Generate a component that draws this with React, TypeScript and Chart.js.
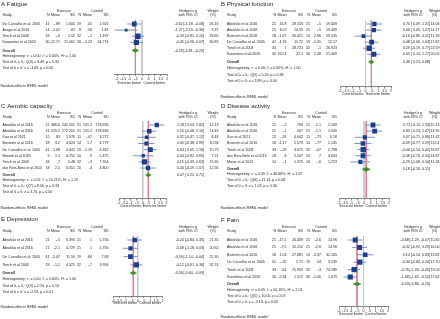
import React, { useEffect, useRef } from "react";
import { Chart, registerables } from "chart.js";

Chart.register(...registerables);

const FONT = '"Liberation Sans", Arial, sans-serif';
const FS = 3.6;
const TITLE_FS = 6.2;
const TEXT = "#1e1e1e";
const NAVY = "#1b3f8e";
const CI_COLOR = "#6a84ba";
const GREEN = "#3f8f2c";
const RED = "#e2798a";
const GRAY = "#c4c4c4";
const AXIS = "#333333";
const SQUARE = 5.4;
const XAXIS_H = 7;

const axisTicks = [-2, -1.5, -1, -0.5, 0, 0.5, 1, 1.5, 2];
const modelNote = "Random-effects REML model";
const headerGroups = ["Exercise", "Control"];
const headerCols = ["Study", "N", "Mean", "SD", "N", "Mean", "SD"];
const headerEffect = ["Hedges's g", "with 95% CI"];
const headerWeight = ["Weight", "(%)"];
const exerciseLeft = ["Exercise better", "Control better"];
const exerciseRight = ["Control better", "Exercise better"];

// A Fatigue
const fatigueStudies = ["De Carvalho et al. 2005", "Avaya et al.2016", "Tench et al.2003", "Karamitou et al.2020"];
const fatigueExN = ["41", "14", "33", "30"];
const fatigueExMean = ["-.89", "-1.02", "-.6", "-12.71"];
const fatigueExSD = ["1.605", ".65", "1.52", "21.061"];
const fatigueCtN = ["19", "8", "32", "30"];
const fatigueCtMean = [".01", ".56", "-.1", "-2.23"];
const fatigueCtSD = ["1.605", "1.81", "1.497", "24.774"];
const fatigueG = [-0.62, -1.27, -0.33, -0.45];
const fatigueLo = [-1.18, -2.19, -0.81, -0.96];
const fatigueHi = [-0.08, -0.36, 0.16, 0.07];
const fatigueWeight = [26.16, 9.37, 33.65, 30.82];
const fatigueOverall = [-0.53, -0.81, -0.25];
const fatigueNotes = [
  "Heterogeneity: τ² = 0.00, I² = 0.00%, H² = 1.00",
  "Test of θᵢ = θⱼ: Q(3) = 3.49, p = 0.32",
  "Test of θ = 0: z = -3.69, p = 0.00",
];

// B Physical function
const physStudies = ["Abrahão et al.2016", "Abrahão et al.2016", "Boström et al.2016", "De Carvalho et al. 2005", "Tench et al.2003", "Karamitou et al.2020"];
const physExN = ["21", "21", "18", "41", "33", "30"];
const physExMean = ["16.8", "10.9", "-1.67", "4.76", "7", "16.51"];
const physExSD = ["28.153", "14.35", "26.421", "11.72", "28.723", "22.1"];
const physCtN = ["21", "21", "14", "19", "32", "30"];
const physCtMean = ["-.5", "-.5", "2.96", "-1.05", "-1", "2.08"];
const physCtSD = ["19.409", "19.409", "29.535", "12.17", "26.923", "21.409"];
const physG = [0.70, 0.66, -0.16, 0.48, 0.29, 0.65];
const physLo = [0.09, 0.05, -0.85, -0.06, -0.19, 0.14];
const physHi = [1.31, 1.27, 0.52, 1.03, 0.77, 1.17];
const physWeight = [14.06, 14.17, 11.33, 17.82, 22.59, 20.02];
const physOverall = [0.46, 0.23, 0.68];
const physNotes = [
  "Heterogeneity: τ² = 0.00, I² = 0.00%, H² = 1.00",
  "Test of θᵢ = θⱼ: Q(5) = 5.26, p = 0.38",
  "Test of θ = 0: z = 3.89, p = 0.00",
];

// C Aerobic capacity
const aerobicStudies = ["Abrahão et al 2016", "Abrahão et al 2016", "Kao et al 2021", "Boström et al 2016", "De Carvalho et al. 2005", "Benatti et al 2018", "Tench et al 2003", "dos Reis-Neto et al 2013"];
const aerobicExN = ["21", "21", "12", "18", "41", "9", "33", "18"];
const aerobicExMean = ["386.6", "229.2", ".83", "3.2", "1.68", "1.1", ".7", "2.5"];
const aerobicExSD = ["242.201", "172.201", "1.976", "4.624", "4.441", "4.752", "5.48", "4.451"];
const aerobicCtN = ["21", "21", "11", "14", "19", "10", "32", "20"];
const aerobicCtMean = ["131.2", "131.2", "-.07", "1.7", "-1.19", ".9", "-.3", ".4"];
const aerobicCtSD = ["178.636", "178.636", "3.272", "4.779", "4.342", "5.475", "7.354", "4.800"];
const aerobicG = [1.18, 0.55, 0.32, 0.30, 0.64, 0.04, 0.15, 0.44];
const aerobicLo = [0.53, -0.06, -0.47, -0.38, 0.09, -0.82, -0.33, -0.19];
const aerobicHi = [1.82, 1.16, 1.12, 0.99, 1.18, 0.90, 0.63, 1.07];
const aerobicWeight = [12.13, 13.49, 8.44, 10.94, 15.79, 7.21, 19.35, 12.56];
const aerobicOverall = [0.47, 0.22, 0.71];
const aerobicNotes = [
  "Heterogeneity: τ² = 0.02, I² = 16.21%, H² = 1.19",
  "Test of θᵢ = θⱼ: Q(7) = 8.06, p = 0.33",
  "Test of θ = 0: z = 3.74, p = 0.00",
];

// D Disease activity
const diseaseStudies = ["Abrahão et al 2016", "Abrahão et al 2016", "Kao et al 2021", "Boström et al 2016", "Tench et al 2003", "dos Reis-Neto et al 2013", "Mossi et al 2012"];
const diseaseExN = ["21", "21", "12", "18", "33", "18", "14"];
const diseaseExMean = ["-.2", "-.1", "-.33", "-1.17", "-.29", ".4", "-1"];
const diseaseExSD = [".794", ".507", "4.042", "5.573", "3.675", "2.207", "1.375"];
const diseaseCtN = ["21", "21", "11", "14", "32", "20", "10"];
const diseaseCtMean = ["-1.1", "-1.1", "-.73", "-.77", "-.07", ".7", "-.6"];
const diseaseCtSD = ["1.509", "1.509", "6.16", "2.145", "2.798", "4.603", "1.253"];
const diseaseG = [0.72, 0.85, 0.07, -0.09, -0.06, -0.08, -0.29];
const diseaseLo = [0.11, 0.23, -0.71, -0.77, -0.54, -0.70, -1.08];
const diseaseHi = [1.33, 1.47, 0.86, 0.59, 0.42, 0.54, 0.50];
const diseaseWeight = [15.13, 14.95, 11.32, 13.51, 18.87, 14.87, 11.34];
const diseaseOverall = [0.18, -0.16, 0.51];
const diseaseNotes = [
  "Heterogeneity: τ² = 0.09, I² = 46.68%, H² = 1.87",
  "Test of θᵢ = θⱼ: Q(6) = 11.14, p = 0.08",
  "Test of θ = 0: z = 1.03, p = 0.30",
];

// E Depression
const depressionStudies = ["Abrahão et al 2016", "Abrahão et al 2016", "De Carvalho et al. 2005", "Tench et al 2003"];
const depressionExN = ["21", "21", "41", "33"];
const depressionExMean = ["-.5", "-2.1", "-5.47", "-1.2"];
const depressionExSD = ["6.393", "4.729", "11.59", "4.021"];
const depressionCtN = ["21", "21", "19", "32"];
const depressionCtMean = ["1", "1", ".84", "-.7"];
const depressionCtSD = ["5.756", "5.756", "7.68", "3.994"];
const depressionG = [-0.24, -0.58, -0.59, -0.12];
const depressionLo = [-0.84, -1.18, -1.14, -0.61];
const depressionHi = [0.35, 0.03, -0.04, 0.36];
const depressionWeight = [21.35, 20.62, 25.30, 32.74];
const depressionOverall = [-0.36, -0.64, -0.09];
const depressionNotes = [
  "Heterogeneity: τ² = 0.00, I² = 0.00%, H² = 1.00",
  "Test of θᵢ = θⱼ: Q(3) = 2.19, p = 0.53",
  "Test of θ = 0: z = -2.59, p = 0.01",
];

// F Pain
const painStudies = ["Abrahão et al 2016", "Abrahão et al 2016", "Boström et al 2016", "De Carvalho et al. 2005", "Tench et al 2003", "Karamitou et al 2020"];
const painExN = ["21", "21", "18", "41", "33", "30"];
const painExMean = ["-17.5", "-7.5", "1.03", "-.32", "-61", "-2.84"];
const painExSD = ["26.439", "15.152", "27.881", "2.71", "75.993", "1.572"];
const painCtN = ["21", "21", "14", "19", "32", "30"];
const painCtMean = ["-2.6", "-2.6", "-3.37", ".54", "-3", "-1.06"];
const painCtSD = ["14.96", "14.96", "32.105", "3.139", "74.189", "1.675"];
const painG = [-0.68, -0.32, 0.14, -0.30, -0.76, -1.08];
const painLo = [-1.29, -0.92, -0.54, -0.84, -1.26, -1.62];
const painHi = [-0.07, 0.29, 0.83, 0.24, -0.26, -0.55];
const painWeight = [15.82, 16.00, 13.82, 17.70, 19.03, 17.62];
const painOverall = [-0.53, -0.86, -0.20];
const painNotes = [
  "Heterogeneity: τ² = 0.09, I² = 50.16%, H² = 2.01",
  "Test of θᵢ = θⱼ: Q(5) = 10.05, p = 0.07",
  "Test of θ = 0: z = -3.13, p = 0.00",
];

type Panel = {
  title: string;
  studies: string[];
  table: string[][];
  g: number[];
  lo: number[];
  hi: number[];
  weight: number[];
  overall: number[];
  notes: string[];
  sides: string[];
};

type Layout = {
  left: number; top: number; width: number; height: number;
  titleY: number; head1Y: number; head2Y: number;
  row0: number; rowStep: number; overallY: number; notesY: number[];
  plotTop: number; axisY: number; axisTitleY: number; modelY: number;
  studyX: number; cols: number[]; groupX: number[];
  plotL: number; plotR: number; ciR: number; ciC: number; wR: number; wC: number;
};

const panels: Panel[] = [
  { title: "A Fatigue", studies: fatigueStudies, table: [fatigueExN, fatigueExMean, fatigueExSD, fatigueCtN, fatigueCtMean, fatigueCtSD], g: fatigueG, lo: fatigueLo, hi: fatigueHi, weight: fatigueWeight, overall: fatigueOverall, notes: fatigueNotes, sides: exerciseLeft },
  { title: "B Physical function", studies: physStudies, table: [physExN, physExMean, physExSD, physCtN, physCtMean, physCtSD], g: physG, lo: physLo, hi: physHi, weight: physWeight, overall: physOverall, notes: physNotes, sides: exerciseRight },
  { title: "C Aerobic capacity", studies: aerobicStudies, table: [aerobicExN, aerobicExMean, aerobicExSD, aerobicCtN, aerobicCtMean, aerobicCtSD], g: aerobicG, lo: aerobicLo, hi: aerobicHi, weight: aerobicWeight, overall: aerobicOverall, notes: aerobicNotes, sides: exerciseRight },
  { title: "D Disease activity", studies: diseaseStudies, table: [diseaseExN, diseaseExMean, diseaseExSD, diseaseCtN, diseaseCtMean, diseaseCtSD], g: diseaseG, lo: diseaseLo, hi: diseaseHi, weight: diseaseWeight, overall: diseaseOverall, notes: diseaseNotes, sides: exerciseLeft },
  { title: "E Depression", studies: depressionStudies, table: [depressionExN, depressionExMean, depressionExSD, depressionCtN, depressionCtMean, depressionCtSD], g: depressionG, lo: depressionLo, hi: depressionHi, weight: depressionWeight, overall: depressionOverall, notes: depressionNotes, sides: exerciseLeft },
  { title: "F Pain", studies: painStudies, table: [painExN, painExMean, painExSD, painCtN, painCtMean, painCtSD], g: painG, lo: painLo, hi: painHi, weight: painWeight, overall: painOverall, notes: painNotes, sides: exerciseLeft },
];

const leftCols = { studyX: 2.5, cols: [49.5, 60, 75, 81, 92, 108.5], groupX: [64, 97], ciR: 204, ciC: 188, wR: 218.5, wC: 213 };
const rightCols = { studyX: 7, cols: [56, 66.5, 83, 90, 101, 117], groupX: [69, 101], ciR: 210, ciC: 193, wR: 219.5, wC: 214.5 };

const layouts: Layout[] = [
  { left: 0, top: 0, width: 220, height: 100, titleY: 4.5, head1Y: 10.5, head2Y: 15, row0: 24, rowStep: 6.1, overallY: 50.5, notesY: [56.3, 62.4, 68.4], plotTop: 20, axisY: 74, axisTitleY: 82.5, modelY: 86, ...leftCols, plotL: 117, plotR: 167 },
  { left: 220, top: 0, width: 220, height: 100, titleY: 4.5, head1Y: 10.5, head2Y: 15, row0: 24, rowStep: 6.05, overallY: 62, notesY: [68.3, 74.8, 81.2], plotTop: 20, axisY: 86.5, axisTitleY: 94, modelY: 96.5, ...rightCols, plotL: 120, plotR: 171 },
  { left: 0, top: 100, width: 220, height: 112, titleY: 6.5, head1Y: 12.5, head2Y: 17, row0: 25, rowStep: 6.15, overallY: 75, notesY: [80, 85.7, 91.5], plotTop: 21, axisY: 98.5, axisTitleY: 106, modelY: 108, ...leftCols, plotL: 119, plotR: 166.5 },
  { left: 220, top: 100, width: 220, height: 112, titleY: 6.5, head1Y: 12.5, head2Y: 17, row0: 25, rowStep: 6.15, overallY: 69.3, notesY: [74, 79.7, 85.5], plotTop: 21, axisY: 98.5, axisTitleY: 106, modelY: 108, ...rightCols, plotL: 119, plotR: 169 },
  { left: 0, top: 212, width: 220, height: 107, titleY: 7.5, head1Y: 14.5, head2Y: 19, row0: 28, rowStep: 8.3, overallY: 61, notesY: [67, 73.7, 80], plotTop: 24, axisY: 84, axisTitleY: 91, modelY: 94.7, ...leftCols, plotL: 113, plotR: 162.5 },
  { left: 220, top: 212, width: 220, height: 107, titleY: 8, head1Y: 14.5, head2Y: 19, row0: 28, rowStep: 7.4, overallY: 72, notesY: [78, 84, 90], plotTop: 24, axisY: 94.5, axisTitleY: 101.5, modelY: 105, ...rightCols, plotL: 119, plotR: 168 },
];

function f2(v: number) {
  return v.toFixed(2);
}

function ciText(g: number, lo: number, hi: number) {
  return `${f2(g)} [${lo < 0 ? "" : " "}${f2(lo)}, ${f2(hi)}]`;
}

function tickLabel(v: number) {
  return String(v).replace(/^(-?)0\./, "$1.");
}

function drawTable(chart: any, p: Panel, L: Layout, overallIdx: number) {
  const ctx = chart.ctx as CanvasRenderingContext2D;
  const ys = chart.scales.y;
  const xs = chart.scales.x;
  const font = `${FS}px ${FONT}`;
  ctx.save();
  ctx.fillStyle = TEXT;
  ctx.textBaseline = "middle";

  ctx.font = `${TITLE_FS}px ${FONT}`;
  ctx.textAlign = "left";
  ctx.fillText(p.title, 1, L.titleY);

  ctx.font = font;
  ctx.textAlign = "center";
  ctx.fillText(headerGroups[0], L.groupX[0], L.head1Y);
  ctx.fillText(headerGroups[1], L.groupX[1], L.head1Y);
  ctx.fillText(headerEffect[0], L.ciC, L.head1Y);
  ctx.fillText(headerEffect[1], L.ciC, L.head2Y);
  ctx.fillText(headerWeight[0], L.wC, L.head1Y);
  ctx.fillText(headerWeight[1], L.wC, L.head2Y);
  ctx.textAlign = "left";
  ctx.fillText(headerCols[0], L.studyX, L.head2Y);
  ctx.textAlign = "right";
  for (let k = 1; k < headerCols.length; k++) ctx.fillText(headerCols[k], L.cols[k - 1], L.head2Y);

  p.studies.forEach((s, i) => {
    const y = ys.getPixelForValue(i);
    ctx.textAlign = "left";
    ctx.fillText(s, L.studyX, y);
    ctx.textAlign = "right";
    p.table.forEach((col, k) => ctx.fillText(col[i], L.cols[k], y));
    ctx.fillText(ciText(p.g[i], p.lo[i], p.hi[i]), L.ciR, y);
    ctx.fillText(f2(p.weight[i]), L.wR, y);
  });

  const oy = ys.getPixelForValue(overallIdx);
  ctx.font = `bold ${FS}px ${FONT}`;
  ctx.textAlign = "left";
  ctx.fillText("Overall", L.studyX, oy);
  ctx.font = font;
  ctx.textAlign = "right";
  ctx.fillText(ciText(p.overall[0], p.overall[1], p.overall[2]), L.ciR, oy);

  ctx.textAlign = "left";
  p.notes.forEach((n, k) => ctx.fillText(n, L.studyX, L.notesY[k]));

  ctx.textAlign = "center";
  ctx.fillText(p.sides[0], xs.getPixelForValue(-1), L.axisTitleY);
  ctx.fillText(p.sides[1], xs.getPixelForValue(1), L.axisTitleY);

  ctx.textAlign = "left";
  ctx.fillText(modelNote, 0.5, L.modelY);
  ctx.restore();
}

function ForestPanel({ p, L }: { p: Panel; L: Layout }) {
  const ref = useRef<HTMLCanvasElement | null>(null);

  useEffect(() => {
    if (!ref.current) return;
    const yMin = (L.plotTop - L.row0) / L.rowStep;
    const yMax = (L.axisY - L.row0) / L.rowStep;
    const overallIdx = (L.overallY - L.row0) / L.rowStep;
    const pxPerUnit = (L.plotR - L.plotL) / 4;
    const xMin = Math.min(-2, ...p.lo);
    const xMax = Math.max(2, ...p.hi);
    const padLeft = L.plotL - (-2 - xMin) * pxPerUnit;
    const padRight = L.width - (L.plotR + (xMax - 2) * pxPerUnit);
    const maxW = Math.max(...p.weight);
    const [est, oLo, oHi] = p.overall;
    const dh = 2.1 / L.rowStep;

    const datasets: any[] = [
      {
        type: "scatter",
        data: p.g.map((g, i) => ({ x: g, y: i })),
        pointStyle: "rect",
        pointRadius: p.weight.map((w) => (SQUARE * Math.sqrt(w / maxW)) / Math.SQRT2),
        backgroundColor: NAVY,
        borderWidth: 0,
      },
      ...p.lo.map((lo, i) => ({
        type: "line",
        data: [{ x: lo, y: i }, { x: p.hi[i], y: i }],
        borderColor: CI_COLOR,
        borderWidth: 0.9,
        pointRadius: 0,
      })),
      {
        type: "line",
        data: [
          { x: oLo, y: overallIdx },
          { x: est, y: overallIdx - dh },
          { x: oHi, y: overallIdx },
          { x: est, y: overallIdx + dh },
          { x: oLo, y: overallIdx },
        ],
        fill: "shape",
        backgroundColor: GREEN,
        borderColor: GREEN,
        borderWidth: 0.4,
        pointRadius: 0,
      },
      {
        type: "line",
        data: [{ x: est, y: yMin }, { x: est, y: yMax }],
        borderColor: RED,
        borderWidth: 0.9,
        pointRadius: 0,
      },
      {
        type: "line",
        data: [{ x: 0, y: yMin }, { x: 0, y: yMax }],
        borderColor: GRAY,
        borderWidth: 0.9,
        pointRadius: 0,
      },
    ];

    const chart = new Chart(ref.current, {
      type: "scatter",
      data: { datasets },
      options: {
        animation: false,
        responsive: false,
        devicePixelRatio: 1,
        events: [],
        layout: {
          autoPadding: false,
          padding: { left: padLeft, right: padRight, top: L.plotTop, bottom: L.height - L.axisY - XAXIS_H },
        },
        plugins: { legend: { display: false }, tooltip: { enabled: false }, title: { display: false } },
        scales: {
          x: {
            type: "linear",
            position: "bottom",
            min: xMin,
            max: xMax,
            afterBuildTicks: (s: any) => {
              s.ticks = axisTicks.map((v) => ({ value: v }));
            },
            afterFit: (s: any) => {
              s.height = XAXIS_H;
            },
            ticks: {
              autoSkip: false,
              maxRotation: 0,
              minRotation: 0,
              padding: 0.5,
              color: TEXT,
              font: { size: FS, family: FONT },
              callback: (v: any) => tickLabel(Number(v)),
            },
            grid: { display: true, drawOnChartArea: false, drawTicks: true, tickLength: 2, color: AXIS, lineWidth: 0.6 },
            border: { display: true, color: AXIS, width: 0.6 },
          },
          y: { type: "linear", display: false, reverse: true, min: yMin, max: yMax },
        },
      } as any,
      plugins: [{ id: "forestTable", afterDraw: (c: any) => drawTable(c, p, L, overallIdx) }],
    });
    return () => chart.destroy();
  }, [p, L]);

  return (
    <canvas
      ref={ref}
      width={L.width}
      height={L.height}
      style={{ position: "absolute", left: L.left, top: L.top, width: L.width, height: L.height }}
    />
  );
}

export default function App() {
  return (
    <div style={{ position: "fixed", left: 0, top: 0, width: 440, height: 319, background: "#ffffff", overflow: "hidden" }}>
      {panels.map((p, i) => (
        <ForestPanel key={p.title} p={p} L={layouts[i]} />
      ))}
    </div>
  );
}
